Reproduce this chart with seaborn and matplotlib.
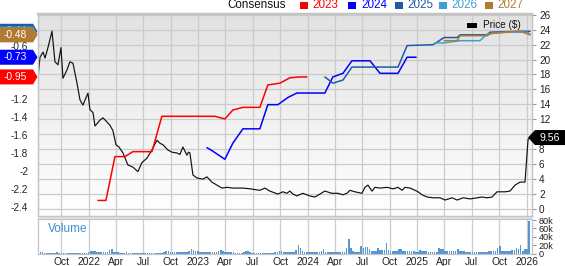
import numpy as np
import pandas as pd
import matplotlib
matplotlib.use("Agg")
import matplotlib.pyplot as plt
from matplotlib.patches import Polygon, Rectangle
from matplotlib.transforms import IdentityTransform
from matplotlib.colors import LinearSegmentedColormap
import seaborn as sns

# ---------------- data ----------------
price_t = [2021.534, 2021.552, 2021.580, 2021.598, 2021.625, 2021.662, 2021.689, 2021.717, 2021.744, 2021.762,
           2021.799, 2021.826, 2021.854, 2021.890, 2021.918, 2021.945, 2021.973, 2021.991, 2022.009, 2022.037,
           2022.055, 2022.101, 2022.128, 2022.155, 2022.192, 2022.219, 2022.247, 2022.274, 2022.311, 2022.356,
           2022.402, 2022.448, 2022.484, 2022.530, 2022.576, 2022.622, 2022.649, 2022.676, 2022.722, 2022.759,
           2022.804, 2022.832, 2022.859, 2022.896, 2022.910, 2022.923, 2022.951, 2022.987, 2023.042, 2023.079,
           2023.124, 2023.170, 2023.216, 2023.261, 2023.316, 2023.408, 2023.472, 2023.563, 2023.609, 2023.654,
           2023.728, 2023.773, 2023.810, 2023.837, 2023.865, 2023.901, 2023.956, 2024.020, 2024.066, 2024.112,
           2024.157, 2024.221, 2024.276, 2024.322, 2024.358, 2024.386, 2024.431, 2024.495, 2024.523, 2024.550,
           2024.587, 2024.614, 2024.660, 2024.724, 2024.779, 2024.824, 2024.861, 2024.888, 2024.934, 2024.980,
           2025.007, 2025.044, 2025.090, 2025.144, 2025.208, 2025.254, 2025.318, 2025.364, 2025.419, 2025.483,
           2025.547, 2025.592, 2025.638, 2025.684, 2025.729, 2025.803, 2025.848, 2025.894, 2025.940, 2025.985,
           2026.013, 2026.031]
price_v = [17.5, 20.3, 21.0, 20.2, 21.6, 23.8, 19.7, 19.3, 21.6, 17.5,
           18.6, 19.7, 19.5, 16.9, 14.6, 13.9, 14.9, 15.5, 13.3, 12.9,
           11.1, 11.9, 12.2, 11.8, 11.2, 10.5, 8.6, 8.3, 7.5, 5.9,
           5.6, 5.0, 6.2, 6.8, 7.9, 9.2, 8.8, 8.6, 7.9, 7.6,
           7.5, 7.3, 8.3, 7.2, 7.6, 7.5, 4.55, 4.15, 4.0, 4.3,
           3.6, 3.2, 2.8, 2.9, 2.8, 2.8, 2.7, 2.5, 2.8, 2.4,
           2.0, 2.3, 2.1, 2.4, 2.0, 1.75, 2.1, 1.75, 1.6, 2.0,
           2.4, 2.1, 2.1, 1.9, 2.1, 2.5, 2.3, 2.1, 2.9, 3.2,
           2.4, 2.9, 2.8, 2.9, 2.7, 2.9, 2.5, 2.9, 2.8, 2.5,
           2.3, 1.9, 1.6, 1.5, 1.5, 1.2, 1.5, 1.2, 1.5, 1.35,
           1.5, 1.6, 1.5, 1.6, 2.3, 2.3, 2.4, 3.2, 3.6, 3.6,
           9.3, 9.56]

c2023_t = [2022.082, 2022.155, 2022.238, 2022.329, 2022.402, 2022.576, 2022.667, 2023.152, 2023.243,
           2023.316, 2023.408, 2023.563, 2023.636, 2023.746, 2023.837, 2023.929, 2023.993]
c2023_v = [-2.33, -2.33, -1.84, -1.84, -1.785, -1.785, -1.39, -1.39, -1.42,
           -1.32, -1.29, -1.29, -1.04, -1.02, -0.96, -0.95, -0.95]
c2024_t = [2023.079, 2023.133, 2023.243, 2023.316, 2023.408, 2023.563, 2023.636, 2023.728, 2023.819,
           2023.901, 2024.157, 2024.230, 2024.322, 2024.404, 2024.569, 2024.660, 2024.824, 2024.907, 2024.989]
c2024_v = [-1.74, -1.78, -1.87, -1.69, -1.53, -1.53, -1.26, -1.26, -1.18,
           -1.13, -1.13, -0.95, -0.91, -0.77, -0.77, -0.91, -0.91, -0.73, -0.73]
c2025_t = [2024.157, 2024.230, 2024.322, 2024.404, 2024.824, 2024.907, 2025.144, 2025.245, 2025.364,
           2025.391, 2025.638, 2025.665, 2025.940, 2026.031]
c2025_v = [-0.95, -1.02, -0.985, -0.84, -0.84, -0.60, -0.59, -0.51, -0.51,
           -0.48, -0.48, -0.45, -0.44, -0.44]
c2026_t = [2025.163, 2025.245, 2025.391, 2025.574, 2025.638, 2025.821, 2026.004, 2026.031]
c2026_v = [-0.57, -0.57, -0.545, -0.545, -0.47, -0.45, -0.45, -0.47]
c2027_t = [2025.245, 2025.364, 2025.391, 2025.638, 2025.684, 2025.940, 2026.031]
c2027_v = [-0.545, -0.545, -0.49, -0.49, -0.46, -0.44, -0.48]

fiscal_years = ["2023", "2024", "2025", "2026", "2027"]
cons_colors = {"2023": "#ff0000", "2024": "#0000ff", "2025": "#1e5aa8",
               "2026": "#3ca0d2", "2027": "#b07a30"}

# weekly volume (thousands), first week 2021-07-16
volume_k = [
    3, 3, 2.5, 2, 1.5, 1.5, 1.5, 2, 2, 4.5, 2,
    2, 1.5, 1.5, 1.5, 1.5, 2, 1.5, 1.5, 2, 1.5, 2, 2, 2,
    3, 5, 5.5, 5, 4, 4, 3, 3, 3.5, 3.5, 9, 11, 4,
    3, 2.5, 2, 2, 2, 2.5, 2, 2, 2, 2, 2, 2, 2,
    2, 2, 1.5, 1.5, 1.5, 1.5, 1.5, 2, 2, 2, 3, 5.5, 6,
    4, 3, 3.5, 3, 2.5, 3, 3, 4, 4, 6, 11, 8, 7,
    5, 4, 4, 4, 4, 3.5, 4, 4.5, 4, 4, 5, 8, 5,
    4, 3, 2.5, 2.5, 2.5, 2, 2, 2, 2, 2.5, 5, 5, 3,
    2, 2, 1.5, 1.5, 1.5, 1.5, 1.5, 1.5, 1.5, 1.5, 1.5, 4, 4,
    5.6, 5.6, 2.5, 3, 3, 2.5, 2.5, 2.5, 8, 20, 12, 6.5, 3,
    3, 2.5, 2.5, 2.5, 2.5, 2.5, 2.5, 5.6, 10, 3, 2.5, 2.5, 2.5,
    2.5, 2.5, 2.5, 2.5, 2.5, 3, 12, 34, 13.6, 5.6, 2.4, 2.4, 3,
    18, 12, 16, 15, 10, 7, 7, 5.6, 12, 8, 8, 8, 25.6,
    8, 5.6, 5.6, 5.6, 5.6, 9.6, 9.6, 6, 6, 6, 6, 7, 6,
    3, 3, 9, 5.6, 5.6, 7, 3, 3, 3, 3, 3, 12, 10,
    10, 5.6, 5.6, 5.6, 5.6, 5.6, 5.6, 10, 6.4, 6.4, 6.4, 3.2, 3.2,
    3.2, 3.2, 3.2, 3.2, 3.2, 3.2, 3.2, 3.2, 3.2, 6.4, 5.6, 5.6, 5.6,
    12, 17.6, 4.8, 4.8, 4.8, 7, 7, 8.8, 8.8, 12, 9.6, 20, 7,
    9.6, 9.6, 78]

eps_ticks = [-2.4, -2.2, -2.0, -1.8, -1.6, -1.4, -1.2, -1.0, -0.8, -0.6, -0.4]
eps_hidden = [-1.0, -0.8, -0.4]          # covered by the value tabs in the reference
price_ticks = list(range(0, 27, 2))
price_hidden = [10]                      # covered by the price tab
vol_ticks = [0, 20000, 40000, 60000, 80000]
vol_tick_labels = ["0", "20k", "40k", "60k", "80k"]


def dec_to_dt(y):
    yr = int(np.floor(y))
    s = pd.Timestamp(yr, 1, 1)
    e = pd.Timestamp(yr + 1, 1, 1)
    return s + (e - s) * (y - yr)


# ---------------- figure ----------------
sns.set_theme(style="white")
plt.rcParams["font.family"] = ["Liberation Sans", "DejaVu Sans"]

W, H = 565, 266
fig = plt.figure(figsize=(W / 100, H / 100), dpi=100, facecolor="white")
L, R_, T_, B_ = 38, 532, 14, 216
ax = fig.add_axes([L / W, 1 - B_ / H, (R_ - L) / W, (B_ - T_) / H])
axe = ax.twinx()
axv = fig.add_axes([L / W, 1 - 253.5 / H, (R_ - L) / W, 34.5 / H], sharex=ax)

grid_c = "#cbcbcb"
spine_c = "#c4c4c4"

# background gradient
cmap = LinearSegmentedColormap.from_list("bg", ["#e2e2e2", "#ffffff"])
ax.imshow(np.linspace(0, 1, 256).reshape(-1, 1), cmap=cmap, extent=[0, 1, 0, 1],
          transform=ax.transAxes, aspect="auto", zorder=-1)

# price line (right axis)
price_df = pd.DataFrame({"date": [dec_to_dt(t) for t in price_t], "price": price_v})
sns.lineplot(data=price_df, x="date", y="price", ax=ax, color="#111111", linewidth=0.85,
             estimator=None)

# consensus lines (left axis)
cons = pd.concat([
    pd.DataFrame({"date": [dec_to_dt(t) for t in ts], "eps": vs, "fy": fy})
    for fy, ts, vs in zip(fiscal_years,
                          [c2023_t, c2024_t, c2025_t, c2026_t, c2027_t],
                          [c2023_v, c2024_v, c2025_v, c2026_v, c2027_v])
], ignore_index=True)
sns.lineplot(data=cons, x="date", y="eps", hue="fy", palette=cons_colors, ax=axe,
             legend=False, estimator=None, linewidth=1.1, sort=False)

# volume bars
vol_dates = pd.date_range("2021-07-16", periods=len(volume_k), freq="7D")
axv.bar(vol_dates, np.array(volume_k) * 1000, width=5.5, color="#5596d6", linewidth=0)

# limits
xl = (dec_to_dt(2021.534), dec_to_dt(2026.049))
ax.set_xlim(*xl)
ax.set_ylim(-0.937, 26.094)
axe.set_ylim(-2.504, -0.247)
axv.set_ylim(0, 82500)

# ticks
qticks = pd.date_range("2021-10-01", "2026-01-01", freq="QS")
axv.set_xticks(qticks)
axv.set_xticklabels([d.strftime("%b") if d.month != 1 else str(d.year) for d in qticks])
ax.tick_params(labelbottom=False, bottom=False)
axv.tick_params(axis="x", length=0, pad=2.2, labelsize=7.4, labelcolor="#222222")

ax.yaxis.tick_right()
ax.set_yticks(price_ticks)
ax.set_yticklabels(["" if v in price_hidden else str(v) for v in price_ticks])
ax.tick_params(axis="y", right=True, left=False, length=3, width=0.8, color="#999999",
               pad=2, labelsize=7.2, labelcolor="#222222")

axe.yaxis.tick_left()
axe.set_yticks(eps_ticks)
axe.set_yticklabels(["" if t in eps_hidden else f"{t:g}" for t in eps_ticks])
axe.tick_params(axis="y", left=True, right=False, length=0, pad=7, labelsize=7.2,
                labelcolor="#222222")

axv.yaxis.tick_right()
axv.set_yticks(vol_ticks)
axv.set_yticklabels(vol_tick_labels)
axv.tick_params(axis="y", right=True, left=False, length=3, width=0.8, color="#999999",
                pad=2, labelsize=6.6, labelcolor="#222222")

for a in (ax, axe, axv):
    a.set_xlabel("")
    a.set_ylabel("")

# grids
ax.grid(True, axis="both", color=grid_c, linewidth=0.9)
ax.set_axisbelow(True)
axe.grid(False)
axv.grid(True, axis="x", color=grid_c, linewidth=0.9)
axv.grid(False, axis="y")
axv.set_facecolor("white")

for a in (ax, axe, axv):
    for s in a.spines.values():
        s.set_color(spine_c)
        s.set_linewidth(0.9)
ax.spines["top"].set_linewidth(1.6)
axe.spines["top"].set_linewidth(1.6)


# ---------------- annotations in pixel space ----------------
def rect(x0, y0, w, h, c, z=1):
    fig.add_artist(Rectangle((x0, H - y0 - h), w, h, transform=IdentityTransform(),
                             facecolor=c, edgecolor="none", zorder=z))


def txt(x, y, s, **kw):
    fig.text(x, H - y, s, transform=IdentityTransform(), **kw)


# separator band between panels
rect(L, 216.5, R_ - L, 2.5, "#dcdcdc")

# legend
txt(227, 5, "Consensus", fontsize=8.4, color="#111111", va="center", ha="left")
leg_pos = [(300, 312), (348, 361), (395, 407), (439, 451), (485, 497)]
for fy, (sx, tx) in zip(fiscal_years, leg_pos):
    rect(sx, 1.7, 7.5, 7, cons_colors[fy])
    txt(tx, 5, fy, fontsize=8.4, color=cons_colors[fy], va="center", ha="left")

rect(467, 23.3, 10, 4.5, "#000000", z=3)
txt(483, 25.5, "Price ($)", fontsize=7.2, color="#111111", va="center", ha="left")

txt(48, 229, "Volume", fontsize=8.5, color="#3d8fd1", va="center", ha="left")

# left value tabs (last consensus values); tabs stack, later ones on top.
# The 2026 tab is entirely hidden under the 2027 tab in the reference, so it gets no text.
last_vals = [(c2025_v[-1], "2025", True), (c2026_v[-1], "2026", False), (c2027_v[-1], "2027", True),
             (c2024_v[-1], "2024", True), (c2023_v[-1], "2023", True)]
for i, (val, fy, show_text) in enumerate(last_vals):
    y = axe.transData.transform((0, val))[1]
    poly = Polygon([(0, y - 7.5), (33, y - 7.5), (37.5, y), (33, y + 7.5), (0, y + 7.5)],
                   closed=True, transform=IdentityTransform(), facecolor=cons_colors[fy],
                   edgecolor="none", zorder=10 + 2 * i)
    fig.add_artist(poly)
    if show_text:
        fig.text(15.5, y, f"{val:.2f}", transform=IdentityTransform(), ha="center", va="center",
                 color="white", fontsize=7.4, zorder=11 + 2 * i)

# right price tab
yp = ax.transData.transform((0, price_v[-1]))[1]
fig.add_artist(Polygon([(528, yp), (535, yp - 7.5), (565, yp - 7.5), (565, yp + 7.5), (535, yp + 7.5)],
                       closed=True, transform=IdentityTransform(), facecolor="#000000",
                       edgecolor="none", zorder=30))
fig.text(550, yp, f"{price_v[-1]:.2f}", transform=IdentityTransform(), ha="center", va="center",
         color="white", fontsize=7.6, zorder=31)

fig.savefig("out.png", dpi=100, facecolor="white")
